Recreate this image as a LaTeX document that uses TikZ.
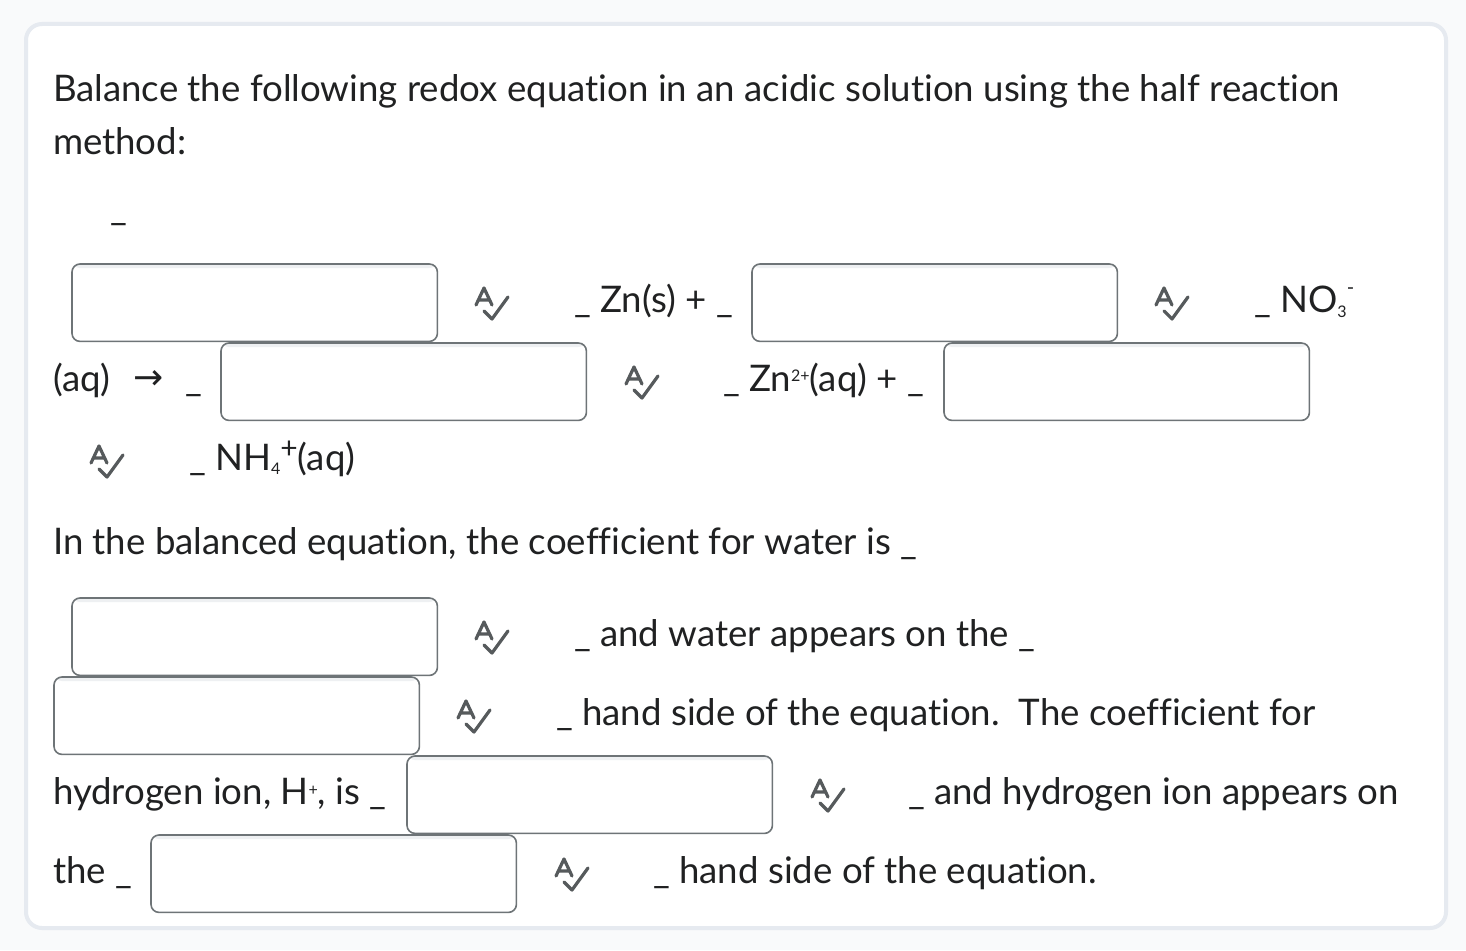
\documentclass[tikz,border=0pt]{standalone}
\usepackage{fontspec}
\setmainfont[Ligatures=NoCommon]{Lato}
\newfontfamily\arrowfont{DejaVu Sans}
\definecolor{pagecol}{HTML}{F9FAFB}
\definecolor{cardline}{HTML}{E6EAF0}
\definecolor{inkcol}{HTML}{202122}
\definecolor{boxline}{HTML}{6E7477}
\definecolor{boxshade}{HTML}{EEF0F2}
\definecolor{markcol}{HTML}{565A5C}
\newcommand{\tinyup}[2][10]{\raisebox{#1pt}{\fontsize{16}{16}\selectfont #2}}
\tikzset{
  line/.style={anchor=base west, inner sep=0pt, outer sep=0pt, text=inkcol, font=\fontsize{36.63}{36.63}\selectfont},
  answerbox/.style={anchor=north west, draw=boxline, line width=1.6pt, fill=white, rounded corners=8pt,
    minimum width=365.4pt, minimum height=77.4pt, inner sep=0pt, outer sep=0pt,
    path picture={\fill[boxshade] (path picture bounding box.north west) rectangle ([yshift=-4pt]path picture bounding box.north east);}},
  card/.style={anchor=north west, draw=cardline, line width=4pt, fill=white, rounded corners=16pt,
    minimum width=1420pt, minimum height=904pt, inner sep=0pt, outer sep=0pt},
  spellmark/.pic={
    \draw[markcol, line width=3.2pt, line cap=round, line join=round] (-8,17) -- (0,0) -- (8,17) (-5,12) -- (5,12);
    \draw[markcol, line width=3.2pt, line cap=round, line join=round] (0,23) -- (8,31) -- (24,9);
  }
}
\begin{document}
\begin{tikzpicture}[x=1pt,y=-1pt]
  \useasboundingbox (0,0) rectangle (1466,950);
  \fill[pagecol] (0,0) rectangle (1466,950);
  \node[card] (panel) at (26,24) {};
  % question text
  \node[line] (intro) at (53,101.5) {Balance the following redox equation in an acidic solution using the half reaction};
  \node[line] (introb) at (53,154) {method:};
  \node[line] (blanka) at (110,220) {\_};
  % first row
  \node[answerbox] (boxa) at (72,264) {};
  \pic at (484,288) {spellmark};
  \node[line] (zinc) at (574,312) {\_ Zn(s) + \_};
  \node[answerbox] (boxb) at (752,264) {};
  \pic at (1164,288) {spellmark};
  \node[line] (nitrate) at (1254,312) {\_ NO\tinyup[-5]{3}\raisebox{18pt}{\fontsize{20}{20}\selectfont -}};
  % second row
  \node[line] (aqa) at (53,391) {(aq)};
  \node[line, font=\fontsize{36}{36}\selectfont] (yields) at (133,389) {\arrowfont →};
  \node[line] (blankb) at (185,391) {\_};
  \node[answerbox] (boxc) at (221,343) {};
  \pic at (634,367) {spellmark};
  \node[line] (zincion) at (723,391) {\_ Zn\tinyup[10]{2+}(aq) + \_};
  \node[answerbox] (boxd) at (944,343) {};
  % third row
  \pic at (99,446) {spellmark};
  \node[line] (ammonium) at (189,470) {\_ NH\tinyup[-4]{4}\raisebox{12pt}{\fontsize{30}{30}\selectfont +}(aq)};
  % water sentence
  \node[line] (water) at (53,554) {In the balanced equation, the coefficient for water is \_};
  \node[answerbox] (boxe) at (72,598) {};
  \pic at (484,622) {spellmark};
  \node[line] (watera) at (574,646.5) {\_ and water appears on the \_};
  \node[answerbox] (boxf) at (54,677) {};
  \pic at (466,701) {spellmark};
  \node[line] (waterb) at (556,725.5) {\_ hand side of the equation.\ \ The coefficient for};
  % hydrogen sentence
  \node[line] (hydrogen) at (53,804.5) {hydrogen ion, H\tinyup[9]{+}, is \_};
  \node[answerbox] (boxg) at (407,756) {};
  \pic at (820,780) {spellmark};
  \node[line] (hydrogenb) at (908,804.5) {\_ and hydrogen ion appears on};
  \node[line] (the) at (53,883.5) {the \_};
  \node[answerbox] (boxh) at (151,835) {};
  \pic at (564,859) {spellmark};
  \node[line] (closing) at (653,883.5) {\_ hand side of the equation.};
\end{tikzpicture}
\end{document}
